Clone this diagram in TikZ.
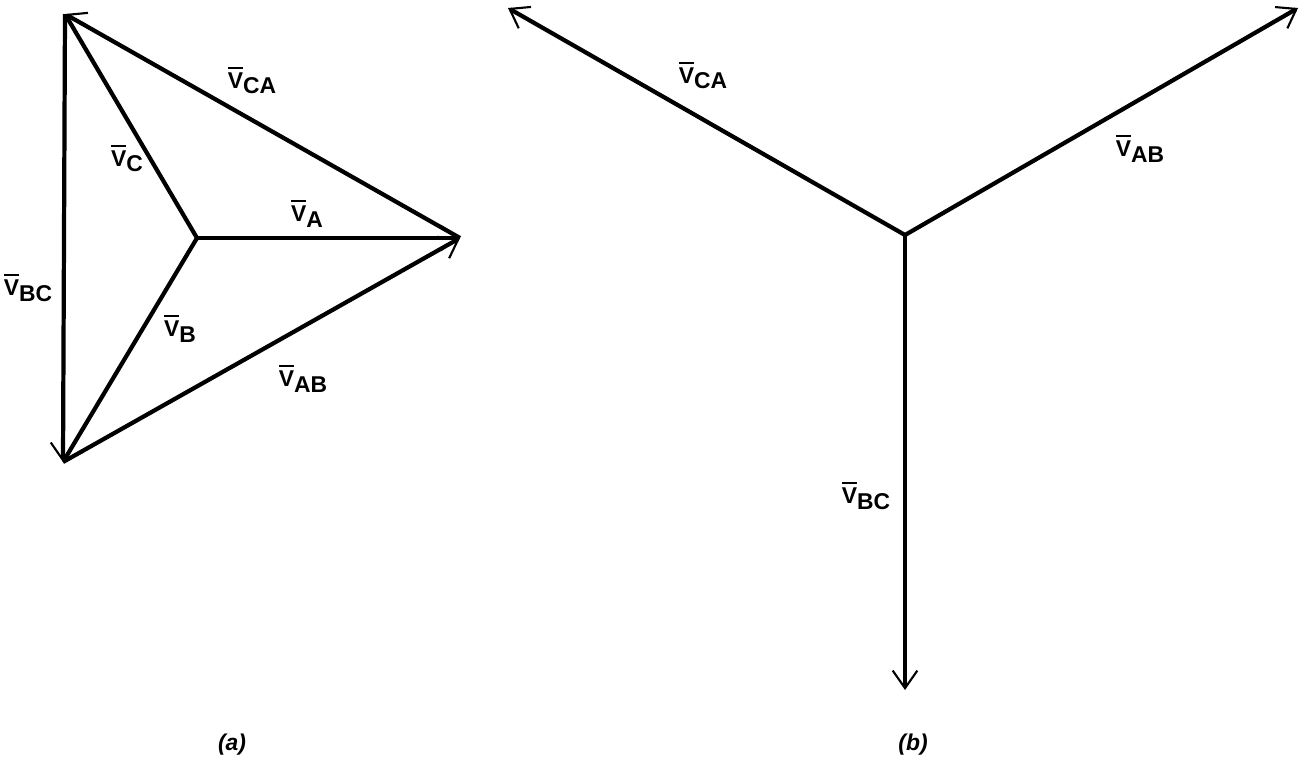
\documentclass[tikz,border=0pt]{standalone}
\usepackage{fontspec}
\setmainfont{Liberation Sans}
\usetikzlibrary{arrows.meta}
\newcommand{\vlab}[1]{$\overline{\mbox{V}}$\raisebox{-0.45ex}{#1}}
\begin{document}
\begin{tikzpicture}[x=0.01cm,y=-0.01cm,
  vec/.style={line width=1.2pt,-{Straight Barb[length=5pt,width=7pt,line width=0.6pt]}},
  lab/.style={font=\fontsize{6.5}{7}\selectfont\bfseries,inner sep=0pt},
  figcap/.style={font=\fontsize{6.5}{7}\selectfont\bfseries\itshape,inner sep=0pt}]
\useasboundingbox (0,0) rectangle (1310,769);
% (a)
\coordinate (T) at (65,14);
\coordinate (R) at (460,238);
\coordinate (L) at (63,462);
\coordinate (O) at (197,238);
\draw[vec] (O) -- (R);
\draw[vec] (O) -- (L);
\draw[vec] (O) -- (T);
\draw[vec] (R) -- (T);
\draw[vec] (T) -- (L);
\draw[vec] (L) -- (R);
\node[lab] (la) at (307,213) {\vlab{A}};
\node[lab] (lb) at (180,328) {\vlab{B}};
\node[lab] (lc) at (127,158) {\vlab{C}};
\node[lab] (lca) at (252,80) {\vlab{CA}};
\node[lab] (lbc) at (28,287) {\vlab{BC}};
\node[lab] (lab) at (303,378) {\vlab{AB}};
\node[figcap] (ca) at (232,745) {(a)};
% (b)
\coordinate (O2) at (905,235);
\coordinate (P1) at (508,8);
\coordinate (P2) at (1298,8);
\coordinate (P3) at (905,690);
\draw[vec] (O2) -- (P1);
\draw[vec] (O2) -- (P2);
\draw[vec] (O2) -- (P3);
\node[lab] (lca2) at (703,75) {\vlab{CA}};
\node[lab] (lab2) at (1140,148) {\vlab{AB}};
\node[lab] (lbc2) at (866,495) {\vlab{BC}};
\node[figcap] (cb) at (913,745) {(b)};
\end{tikzpicture}
\end{document}
